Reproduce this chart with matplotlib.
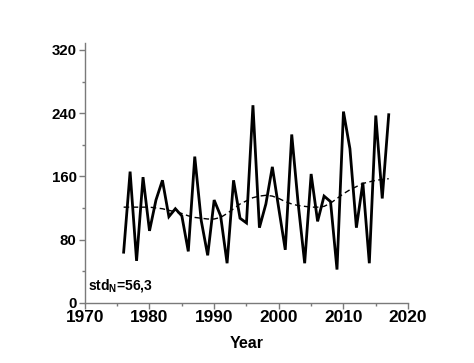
import matplotlib
matplotlib.use("Agg")
import matplotlib.pyplot as plt
from matplotlib.ticker import MultipleLocator

years = list(range(1976, 2018))
values = [64, 166, 53, 159, 91, 130, 155, 109, 119, 110,
          65, 185, 104, 60, 130, 110, 50, 155, 107, 101,
          250, 95, 125, 172, 119, 67, 213, 125, 50, 163,
          103, 135, 128, 42, 242, 195, 95, 152, 50, 237,
          132, 238]
trend = [121, 121, 121, 121, 121, 120, 119, 117, 115, 113,
         110, 108, 107, 106, 106, 108, 113, 119, 125, 129,
         133, 135, 136, 135, 132, 128, 125, 123, 122, 121,
         121, 122, 126, 132, 138, 143, 147, 151, 153, 155,
         156, 157]
xticks = [1970, 1980, 1990, 2000, 2010, 2020]
yticks = [0, 80, 160, 240, 320]

plt.rcParams['font.family'] = ['Liberation Sans', 'DejaVu Sans']
plt.rcParams['mathtext.fontset'] = 'custom'
plt.rcParams['mathtext.rm'] = 'Liberation Sans:bold'
plt.rcParams['mathtext.bf'] = 'Liberation Sans:bold'

fig = plt.figure(figsize=(4.74, 3.63), dpi=100)
ax = fig.add_axes([0.179, 0.166, 0.682, 0.716])

ax.plot(years, values, color='black', lw=2.0, solid_joinstyle='miter')
ax.plot(years, trend, color='black', lw=1.0, ls=(0, (4, 2.5)))

ax.set_xlim(1970, 2020)
ax.set_ylim(0, 329)
ax.set_xticks(xticks)
ax.set_yticks(yticks)
ax.xaxis.set_minor_locator(MultipleLocator(5))
ax.yaxis.set_minor_locator(MultipleLocator(40))

for s in ['top', 'right']:
    ax.spines[s].set_visible(False)
for s in ['left', 'bottom']:
    ax.spines[s].set_color('#7a7a7a')
    ax.spines[s].set_linewidth(1.0)

ax.tick_params(which='major', direction='out', length=4, width=1, color='#7a7a7a', pad=2)
ax.tick_params(which='minor', direction='out', length=2, width=1, color='#7a7a7a')
ax.tick_params(axis='x', which='major', labelsize=12.4, pad=1)
ax.tick_params(axis='y', which='major', labelsize=10.8)
for lab in ax.get_xticklabels() + ax.get_yticklabels():
    lab.set_fontweight('bold')

ax.set_xlabel('Year', fontsize=11.5, fontweight='bold', labelpad=8)

ax.text(0.01, 0.035, r'std$_{\mathbf{N}}$=56,3', transform=ax.transAxes,
        fontsize=10, fontweight='bold', ha='left', va='bottom')

fig.savefig('out.png', dpi=100)
